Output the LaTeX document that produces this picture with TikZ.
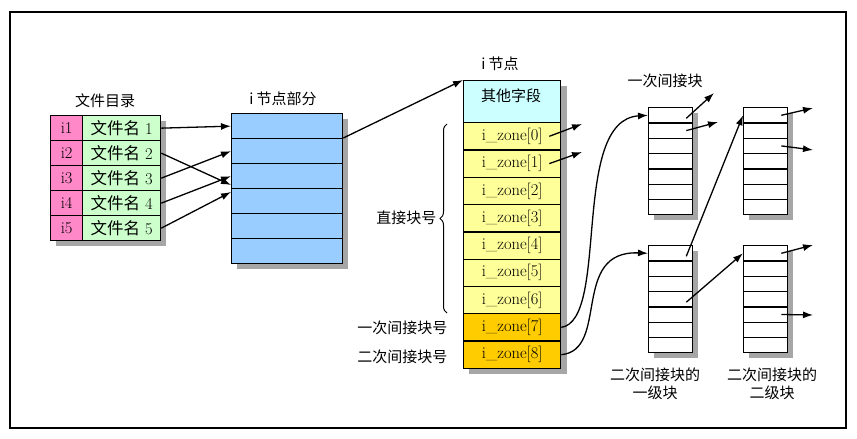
\documentclass[tikz,border=0pt]{standalone}
\usepackage{fontspec}
\newfontfamily\cjk{Noto Sans CJK SC}
\usetikzlibrary{positioning,decorations.pathreplacing,arrows.meta}
\definecolor{pinkc}{HTML}{FF88C8}
\definecolor{greenc}{HTML}{CCFFCC}
\definecolor{bluec}{HTML}{99CCFF}
\definecolor{cyanc}{HTML}{CCFFFF}
\definecolor{yellowc}{HTML}{FFFF99}
\definecolor{orangec}{HTML}{FFCC00}
\tikzset{
  cell/.style={draw, line width=1.3pt, inner sep=0pt, anchor=north west, font=\fontsize{16.5}{18}\selectfont},
  shade/.style={fill=black!35, draw=none},
  arr/.style={-{Latex[length=10pt,width=7pt]}, line width=1.3pt},
  lab/.style={font=\cjk\fontsize{15}{18}\selectfont}
}
\begin{document}
\begin{tikzpicture}[x=1pt,y=-1pt]
\useasboundingbox (0,0) rectangle (857,439);
\draw[line width=1.3pt] (10,12) rectangle (846,428);

% directory
\fill[shade] (56,121) rectangle (166,246);
\foreach \k/\n in {1/1,2/2,3/3,4/4,5/5}{
  \node[cell, fill=pinkc, minimum width=32, minimum height=25] (id\k) at (50,{115+25*(\k-1)}) {i\n};
  \node[cell, fill=greenc, minimum width=78, minimum height=25] (nm\k) at (82,{115+25*(\k-1)}) {{\cjk 文件名} \n};
}
\node[lab] at (105,101) {文件目录};

% inode table
\fill[shade] (237,119) rectangle (348,269);
\foreach \k in {1,...,6}
  \node[cell, fill=bluec, minimum width=111, minimum height=25] (ip\k) at (231,{113+25*(\k-1)}) {};
\node[lab] at (283,99) {i 节点部分};

\draw[arr] (nm1.east) -- (ip1.west);
\draw[arr] (nm2.east) -- ([yshift=3]ip4.north west);
\draw[arr] (nm3.east) -- (ip2.west);
\draw[arr] (nm4.east) -- (ip3.west);
\draw[arr] (nm5.east) -- ([yshift=-4]ip4.north west);

% inode
\fill[shade] (469,86) rectangle (567,374);
\node[cell, fill=cyanc, minimum width=97, minimum height=42] (oth) at (463,80) {};
\node[lab] at (511,96) {其他字段};
\foreach \k in {0,...,8}{
  \ifnum\k<7 \def\zc{yellowc}\else\def\zc{orangec}\fi
  \node[cell, fill=\zc, minimum width=97, minimum height=27.3] (z\k) at (463,{122+27.3*\k}) {i\_zone[\k]};
}
\node[lab] at (500,64) {i 节点};
\draw[arr] (ip2.north east) -- (oth.north west);

\draw[decorate, decoration={brace, amplitude=7pt}, line width=1pt]
  (447,313) -- (447,124);
\node[lab, anchor=east] at (440,218) {直接块号};
\node[lab, anchor=east] at (451,328) {一次间接块号};
\node[lab, anchor=east] at (451,357) {二次间接块号};

\coordinate (e0) at (582,124);
\coordinate (e1) at (582,152);
\draw[arr] ([xshift=-12]z0.east) -- (e0);
\draw[arr] ([xshift=-12]z1.east) -- (e1);

% index blocks
\foreach \nm/\x/\y in {ba/648/107, bb/648/245, bc/743/107, bd/743/245}{
  \fill[shade] (\x+6,\y+6) rectangle (\x+50,\y+113);
  \foreach \r in {1,...,7}
    \node[cell, fill=white, minimum width=44, minimum height=15.3] (\nm\r) at (\x,{\y+15.3*(\r-1)}) {};
}
\node[lab] at (665,81) {一次间接块};
\node[lab, align=center] at (655,384) {二次间接块的\\一级块};
\node[lab, align=center] at (772,384) {二次间接块的\\二级块};

\draw[arr] (z7.east) .. controls (610,320) and (570,120) .. (ba1.west);
\draw[arr] (z8.east) .. controls (610,350) and (570,250) .. (bb1.west);

\coordinate (f1) at (714,93);
\coordinate (f2) at (718,122);
\draw[arr] ([xshift=-7,yshift=-3]ba1.east) -- (f1);
\draw[arr] ([xshift=-7]ba2.east) -- (f2);
\draw[arr] ([xshift=-7,yshift=-3]bb1.east) -- (bc1.west);
\draw[arr] ([xshift=-7,yshift=-3]bb4.east) -- (bd1.west);

\coordinate (g1) at (813,108);
\coordinate (g2) at (813,150);
\coordinate (g3) at (813,245);
\coordinate (g4) at (813,315);
\draw[arr] ([xshift=-7]bc1.east) -- (g1);
\draw[arr] ([xshift=-7]bc3.east) -- (g2);
\draw[arr] ([xshift=-7]bd1.east) -- (g3);
\draw[arr] ([xshift=-7]bd5.east) -- (g4);
\end{tikzpicture}
\end{document}
